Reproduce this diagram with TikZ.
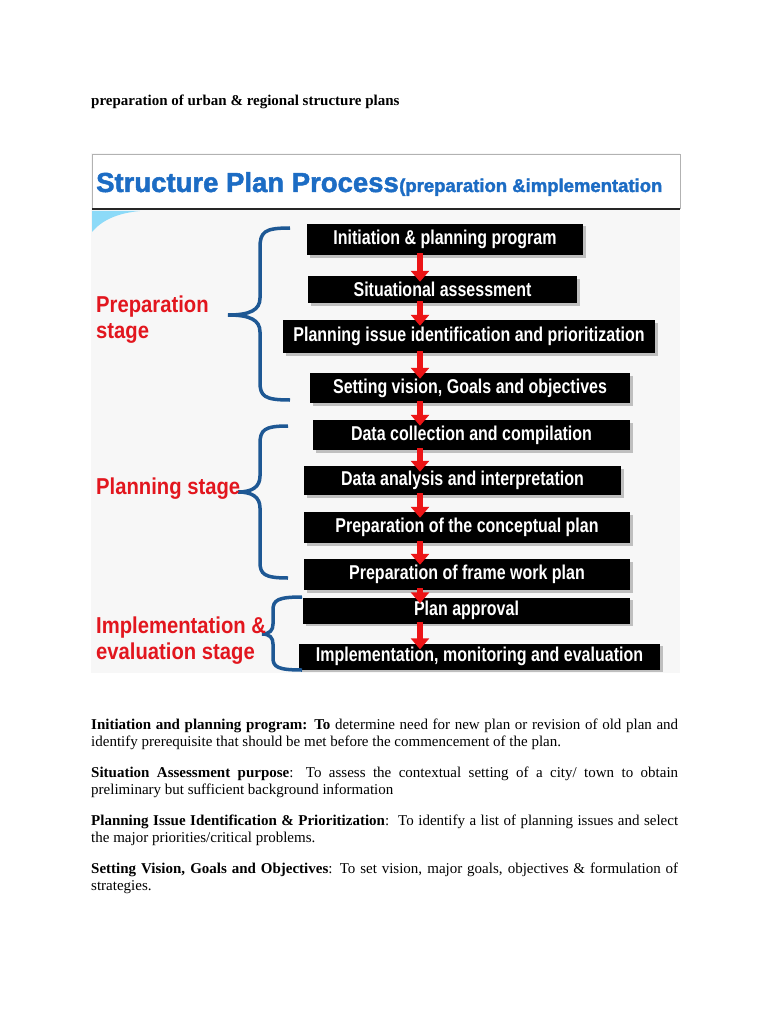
\documentclass[tikz,border=0pt]{standalone}
\usepackage{fontspec}
\setmainfont{Liberation Serif}
\newfontfamily\boxfont[FakeStretch=0.8]{Liberation Sans}
\newfontfamily\stagefont[FakeStretch=0.88]{Liberation Sans}
\newfontfamily\titlefont[BoldFeatures={FakeBold=1.8}]{Liberation Sans}
\usetikzlibrary{calc}
\usetikzlibrary{arrows.meta}
\usetikzlibrary{shadows}

\definecolor{titleblue}{RGB}{28,108,196}
\definecolor{braceblue}{RGB}{30,88,148}
\definecolor{stagered}{RGB}{226,22,30}
\definecolor{arrowred}{RGB}{236,20,22}

\begin{document}
\begin{tikzpicture}[x=1pt, y=-1pt,
  stepbox/.style={fill=black, text=white, inner sep=0, font=\boxfont\bfseries\fontsize{20}{22}\selectfont,
    drop shadow={shadow xshift=2.5pt, shadow yshift=-2.5pt, fill=black!25, opacity=1}},
  flowarrow/.style={arrowred, line width=6.5pt, -{Triangle[width=18pt 0 0, length=11pt 0 0]}, shorten >=-6pt, shorten <=-2pt},
  stagebrace/.style={braceblue, line width=3.5pt},
  stagelabel/.style={stagered, anchor=west, align=left, inner sep=0, font=\stagefont\bfseries\fontsize{23}{26}\selectfont}]

\useasboundingbox (0,0) rectangle (768,1024);
\fill[white] (0,0) rectangle (768,1024);

\node[anchor=base west, inner sep=0, font=\bfseries\fontsize{15}{18}\selectfont] (heading) at (91,106) {preparation of urban \& regional structure plans};

% slide
\fill[gray!6] (91,153) rectangle (680,673);
\fill[white] (92,154) rectangle (680,208);
\draw[gray!60, line width=.8pt] (92,209)--(92,154)--(680,154)--(680,209);
\draw[black!85, line width=2.2pt] (92,209)--(680,209);
\fill[cyan!45] (92,211)--(140,211) .. controls (118,213) and (102,220) .. (92,232)--cycle;

\node[anchor=base west, inner sep=0, titleblue, font=\titlefont\bfseries\fontsize{27.5}{30}\selectfont] (title) at (96,192) {Structure Plan Process};
\node[anchor=base west, inner sep=0, titleblue, font=\titlefont\bfseries\fontsize{18.5}{20}\selectfont] (subtitle) at (title.base east) {(preparation \&implementation};

\node[stepbox, minimum width=276, minimum height=31] (init) at (445,239.5) {Initiation \& planning program};
\node[stepbox, minimum width=269, minimum height=27] (situ) at (442.5,289.5) {Situational assessment};
\node[stepbox, minimum width=372, minimum height=33] (issue) at (469,336.5) {Planning issue identification and prioritization};
\node[stepbox, minimum width=320, minimum height=30] (vision) at (470,388) {Setting vision, Goals and objectives};
\node[stepbox, minimum width=317, minimum height=30] (collect) at (471.5,435) {Data collection and compilation};
\node[stepbox, minimum width=317, minimum height=29] (analysis) at (462.5,480.5) {Data analysis and interpretation};
\node[stepbox, minimum width=326, minimum height=31] (concept) at (467,527.5) {Preparation of the conceptual plan};
\node[stepbox, minimum width=326, minimum height=31] (frame) at (467,574.5) {Preparation of frame work plan};
\node[stepbox, minimum width=327, minimum height=26] (approval) at (466.5,610.5) {Plan approval};
\node[stepbox, minimum width=361, minimum height=26] (monitor) at (479.5,656.5) {Implementation, monitoring and evaluation};

\coordinate (ax) at (420,0);
\foreach \a/\b in {init/situ, situ/issue, issue/vision, vision/collect, collect/analysis, analysis/concept, concept/frame, frame/approval, approval/monitor}
 \draw[flowarrow] (ax |- \a.south)--(ax |- \b.north);

% braces
\draw[stagebrace] (290,228) .. controls (264,228) and (260,232) .. (260,248)--(260,298) .. controls (260,310) and (250,315) .. (228,315) .. controls (250,315) and (260,320) .. (260,332)--(260,382) .. controls (260,396) and (264,400) .. (290,400);
\draw[stagebrace] (288,426) .. controls (264,426) and (260,430) .. (260,444)--(260,476) .. controls (260,487) and (252,492) .. (238,492) .. controls (252,492) and (260,497) .. (260,508)--(260,562) .. controls (260,574) and (264,578) .. (288,578);
\draw[stagebrace] (302,597) .. controls (278,597) and (273,600) .. (273,610)--(273,624) .. controls (273,630) and (270,634) .. (262,634) .. controls (270,634) and (273,638) .. (273,644)--(273,658) .. controls (273,667) and (278,670) .. (302,670);

\node[stagelabel] (prep) at (96,320) {Preparation\\stage};
\node[stagelabel] (plan) at (96,489) {Planning stage};
\node[stagelabel] (impl) at (96,641) {Implementation \&\\evaluation stage};

% notes under the slide
\node[anchor=base west, inner sep=0, text width=587pt, align=justify, font=\fontsize{15}{17.5}\selectfont] (notes) at (91,729) {\setlength{\parskip}{13pt}%
\textbf{Initiation and planning program: To} determine need for new plan or revision of old plan and\linebreak identify prerequisite that should be met before the commencement of the plan.\par
\textbf{Situation Assessment purpose}: To assess the contextual setting of a city/ town to obtain\linebreak preliminary but sufficient background information\par
\textbf{Planning Issue Identification \& Prioritization}:\ \ To identify a list of planning issues and select\linebreak the major priorities/critical problems.\par
\textbf{Setting Vision, Goals and Objectives}: To set vision, major goals, objectives \& formulation of\linebreak strategies.\par};

\end{tikzpicture}
\end{document}
